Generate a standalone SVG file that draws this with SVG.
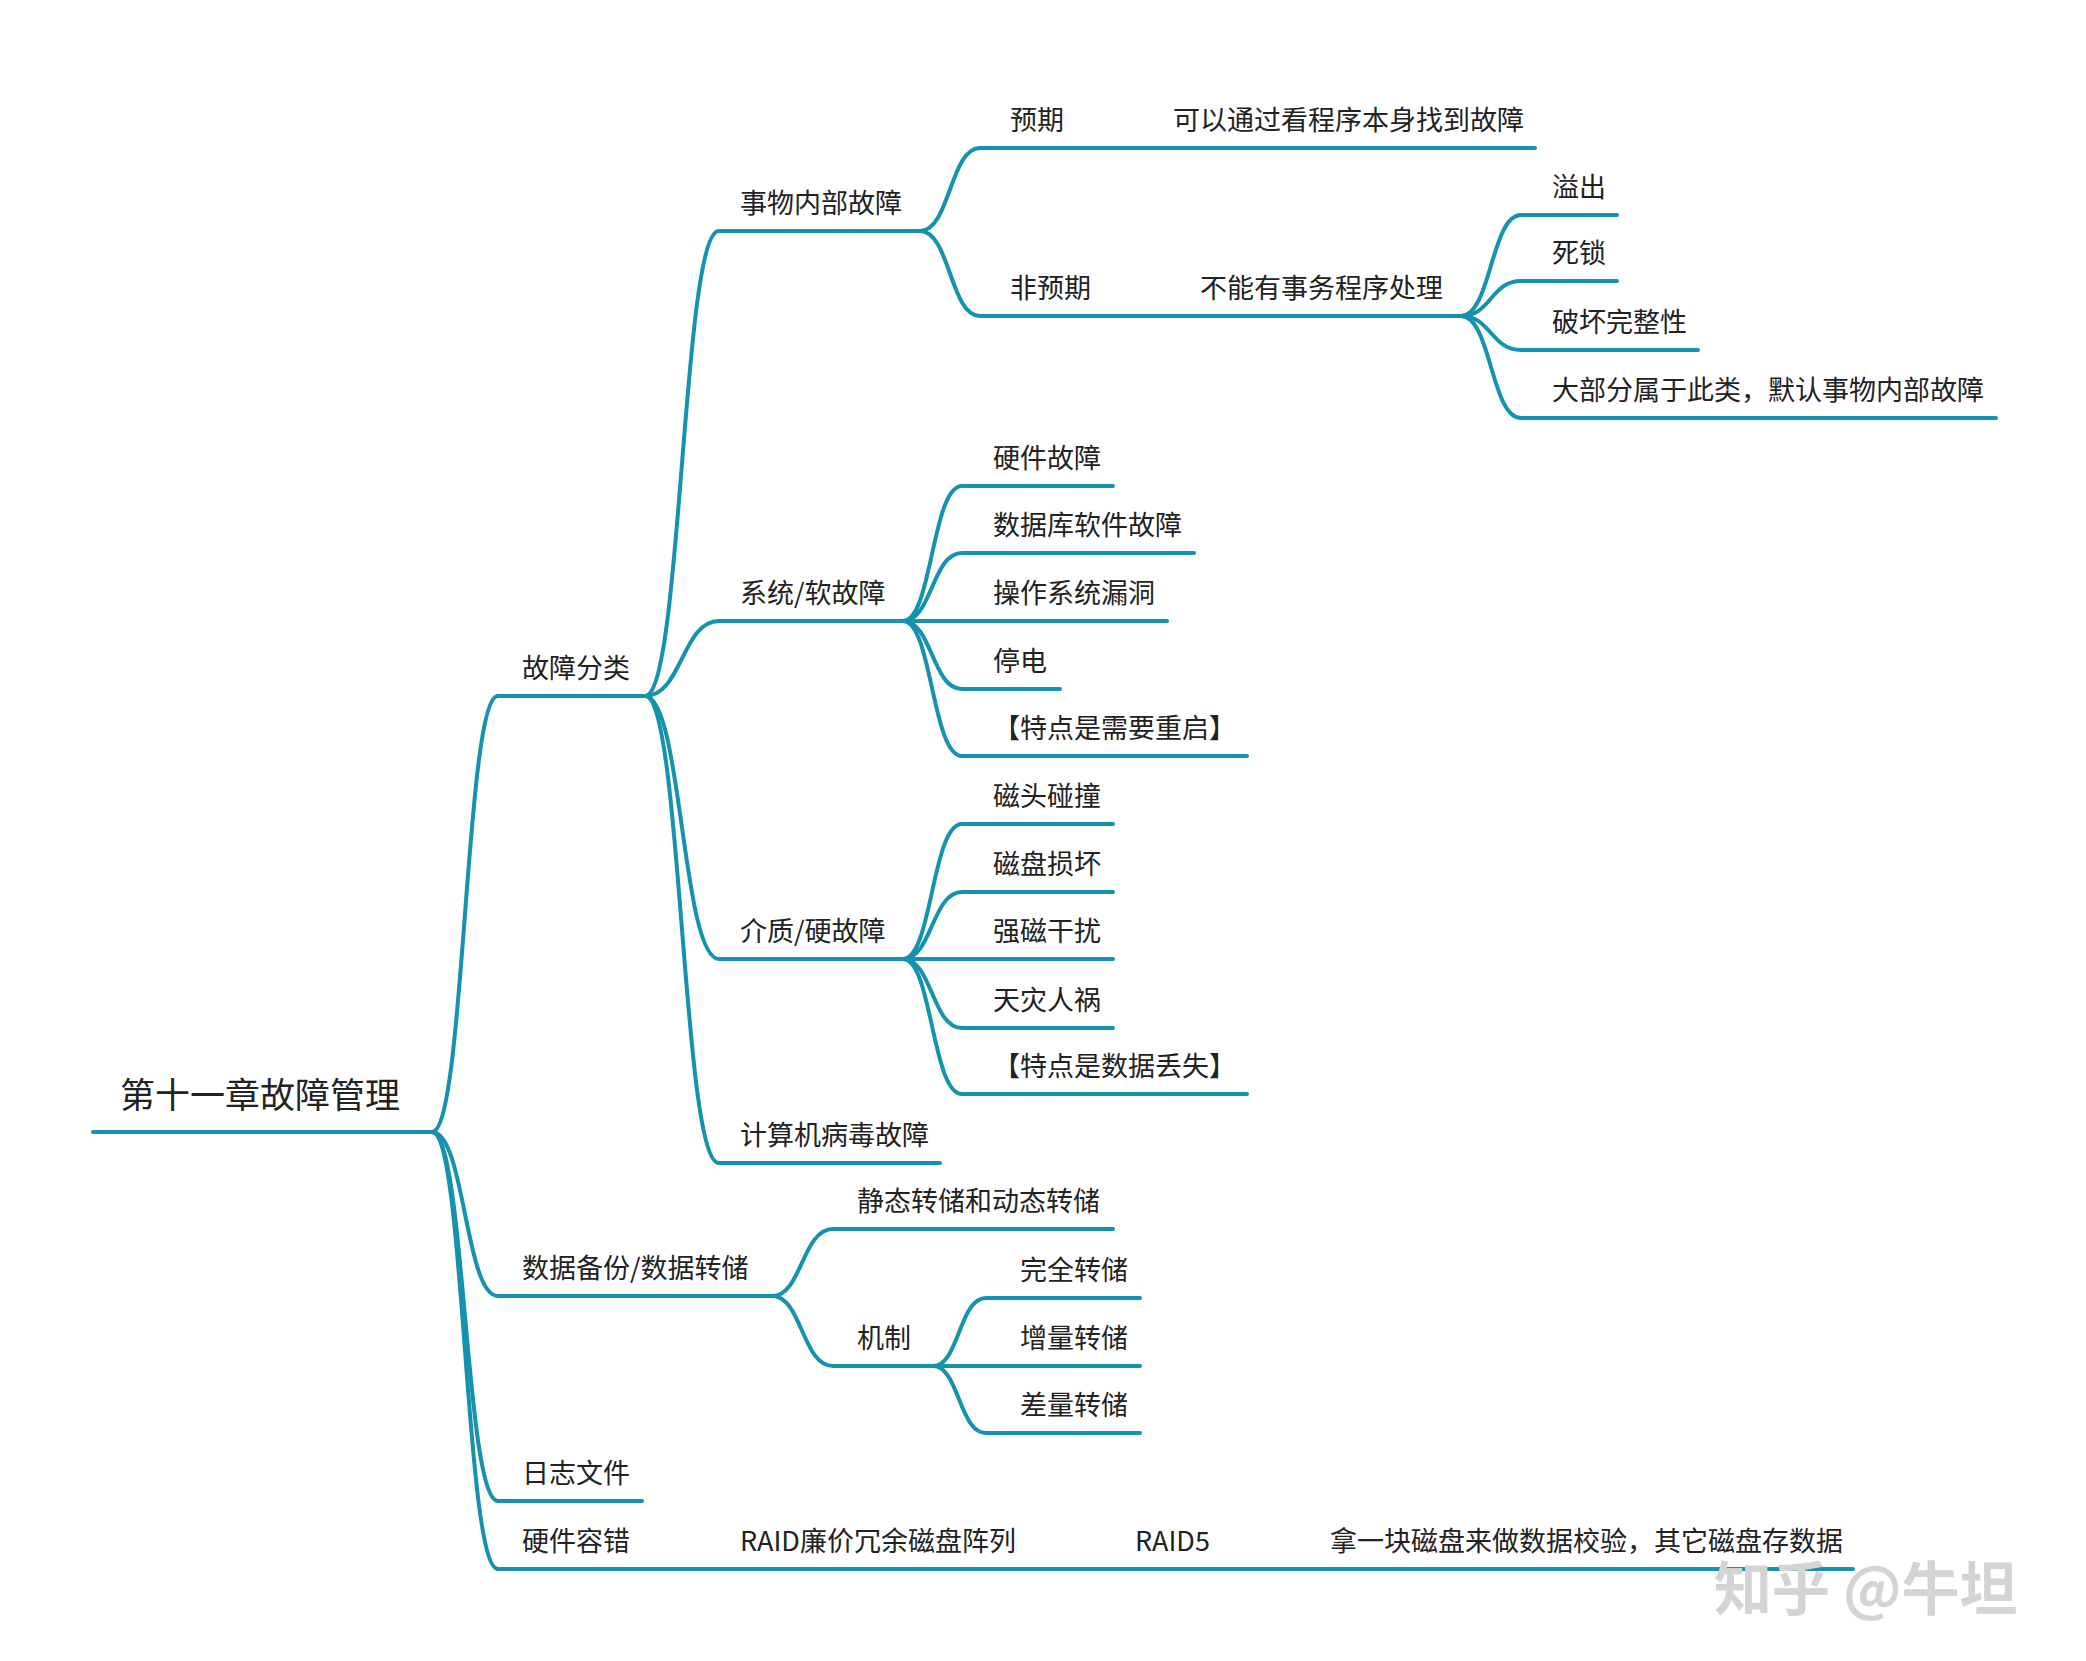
<svg xmlns="http://www.w3.org/2000/svg" width="2086" height="1661" viewBox="0 0 2086 1661">
<style>
.c{fill:none;stroke:#1592ad;stroke-width:4;stroke-linecap:round}
text{font-family:"Noto Sans CJK SC","Liberation Sans",sans-serif;font-size:27px;fill:#222}
.r{font-size:35px}
.w{font-size:58px;fill:#d4d4d4;font-weight:bold}
</style>
<rect width="2086" height="1661" fill="#fff"/>
<g transform="translate(-3,-2)">
<g id="connectors">
<path class="c" d="M96 1134H435"/>
<path class="c" d="M435 1134C468 1134 468 698 501 698H648"/>
<path class="c" d="M435 1134C468 1134 468 1298 501 1298H775"/>
<path class="c" d="M435 1134C468 1134 468 1503 501 1503H645"/>
<path class="c" d="M435 1134C468 1134 468 1571 501 1571H1856"/>
<path class="c" d="M648 698C685 698 685 233 722 233H923"/>
<path class="c" d="M648 698C685 698 685 623 722 623H906"/>
<path class="c" d="M648 698C685 698 685 961 722 961H906"/>
<path class="c" d="M648 698C685 698 685 1165 722 1165H943"/>
<path class="c" d="M923 233C953 233 953 150 983 150H1538"/>
<path class="c" d="M923 233C953 233 953 318 983 318H1464"/>
<path class="c" d="M1464 318C1494 318 1494 217 1524 217H1620"/>
<path class="c" d="M1464 318C1494 318 1494 283 1524 283H1620"/>
<path class="c" d="M1464 318C1494 318 1494 352 1524 352H1701"/>
<path class="c" d="M1464 318C1494 318 1494 420 1524 420H1999"/>
<path class="c" d="M906 623C935 623 935 488 965 488H1116"/>
<path class="c" d="M906 623C935 623 935 555 965 555H1197"/>
<path class="c" d="M906 623C935 623 935 623 965 623H1170"/>
<path class="c" d="M906 623C935 623 935 691 965 691H1063"/>
<path class="c" d="M906 623C935 623 935 758 965 758H1250"/>
<path class="c" d="M906 961C935 961 935 826 965 826H1116"/>
<path class="c" d="M906 961C935 961 935 894 965 894H1116"/>
<path class="c" d="M906 961C935 961 935 961 965 961H1116"/>
<path class="c" d="M906 961C935 961 935 1030 965 1030H1116"/>
<path class="c" d="M906 961C935 961 935 1096 965 1096H1250"/>
<path class="c" d="M775 1298C805 1298 805 1231 836 1231H1116"/>
<path class="c" d="M775 1298C805 1298 805 1368 836 1368H936"/>
<path class="c" d="M936 1368C962 1368 962 1300 989 1300H1143"/>
<path class="c" d="M936 1368C962 1368 962 1368 989 1368H1143"/>
<path class="c" d="M936 1368C962 1368 962 1435 989 1435H1143"/>
</g>
<g id="root"><text class="r" x="123" y="1110">第十一章故障管理</text></g>
<g id="n1"><text x="525" y="680">故障分类</text></g>
<g id="n2"><text x="525" y="1280">数据备份/数据转储</text></g>
<g id="n3"><text x="525" y="1485">日志文件</text></g>
<g id="n4"><text x="525" y="1553">硬件容错</text></g>
<g id="n4a"><text x="743" y="1553">RAID廉价冗余磁盘阵列</text></g>
<g id="n4b"><text x="1138" y="1553">RAID5</text></g>
<g id="n4c"><text x="1333" y="1553">拿一块磁盘来做数据校验，其它磁盘存数据</text></g>
<g id="n11"><text x="743" y="215">事物内部故障</text></g>
<g id="n111"><text x="1013" y="132">预期</text></g>
<g id="n111a"><text x="1176" y="132">可以通过看程序本身找到故障</text></g>
<g id="n112"><text x="1013" y="300">非预期</text></g>
<g id="n112a"><text x="1203" y="300">不能有事务程序处理</text></g>
<g id="n1121"><text x="1555" y="199">溢出</text></g>
<g id="n1122"><text x="1555" y="265">死锁</text></g>
<g id="n1123"><text x="1555" y="334">破坏完整性</text></g>
<g id="n1124"><text x="1555" y="402">大部分属于此类，默认事物内部故障</text></g>
<g id="n12"><text x="743" y="605">系统/软故障</text></g>
<g id="n121"><text x="996" y="470">硬件故障</text></g>
<g id="n122"><text x="996" y="537">数据库软件故障</text></g>
<g id="n123"><text x="996" y="605">操作系统漏洞</text></g>
<g id="n124"><text x="996" y="673">停电</text></g>
<g id="n125"><text x="996" y="740">【特点是需要重启】</text></g>
<g id="n13"><text x="743" y="943">介质/硬故障</text></g>
<g id="n131"><text x="996" y="808">磁头碰撞</text></g>
<g id="n132"><text x="996" y="876">磁盘损坏</text></g>
<g id="n133"><text x="996" y="943">强磁干扰</text></g>
<g id="n134"><text x="996" y="1012">天灾人祸</text></g>
<g id="n135"><text x="996" y="1078">【特点是数据丢失】</text></g>
<g id="n14"><text x="743" y="1147">计算机病毒故障</text></g>
<g id="n21"><text x="860" y="1213">静态转储和动态转储</text></g>
<g id="n22"><text x="860" y="1350">机制</text></g>
<g id="n221"><text x="1023" y="1282">完全转储</text></g>
<g id="n222"><text x="1023" y="1350">增量转储</text></g>
<g id="n223"><text x="1023" y="1417">差量转储</text></g>
</g>
<text class="w" x="1714" y="1610">知乎 @牛坦</text>
</svg>
